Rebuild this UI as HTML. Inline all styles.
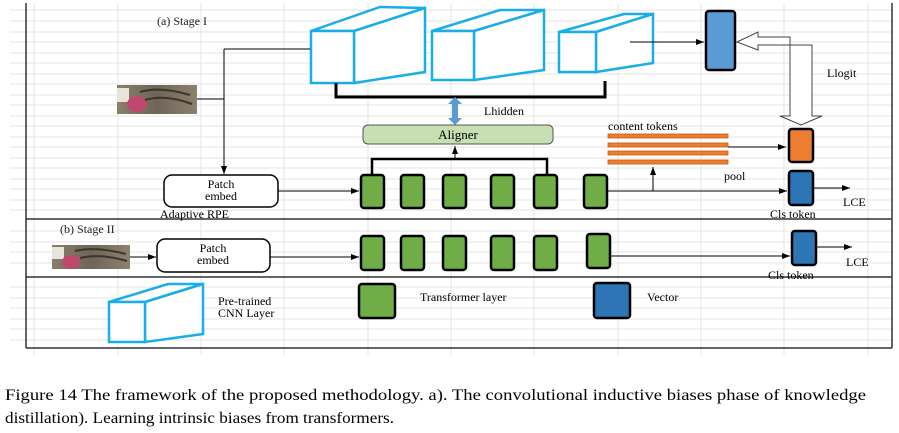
<!DOCTYPE html>
<html><head><meta charset="utf-8"><style>
html,body{margin:0;padding:0;background:#fff;}
svg{display:block;font-family:"Liberation Serif",serif;}
</style></head><body>
<svg width="899" height="433" viewBox="0 0 899 433" xmlns="http://www.w3.org/2000/svg">
<defs>
<marker id="ah" markerWidth="8" markerHeight="6" refX="8" refY="3" orient="auto" markerUnits="userSpaceOnUse"><path d="M0,0 L8,3 L0,6 Z" fill="#000"/></marker>
<linearGradient id="cat" x1="0" x2="1"><stop offset="0" stop-color="#8a7f6c"/><stop offset="0.5" stop-color="#6e6558"/><stop offset="1" stop-color="#8d8270"/></linearGradient>
</defs>
<!-- grid -->
<g stroke="#e4e4e4" stroke-width="1">
<line x1="10" y1="10" x2="893" y2="10"/><line x1="10" y1="21" x2="893" y2="21"/><line x1="10" y1="32" x2="893" y2="32"/><line x1="10" y1="42" x2="893" y2="42"/><line x1="10" y1="53" x2="893" y2="53"/><line x1="10" y1="63" x2="893" y2="63"/><line x1="10" y1="74" x2="893" y2="74"/><line x1="10" y1="84" x2="893" y2="84"/><line x1="10" y1="95" x2="893" y2="95"/><line x1="10" y1="105" x2="893" y2="105"/><line x1="10" y1="116" x2="893" y2="116"/><line x1="10" y1="126" x2="893" y2="126"/><line x1="10" y1="137" x2="893" y2="137"/><line x1="10" y1="147" x2="893" y2="147"/><line x1="10" y1="158" x2="893" y2="158"/><line x1="10" y1="168" x2="893" y2="168"/><line x1="10" y1="179" x2="893" y2="179"/><line x1="10" y1="189" x2="893" y2="189"/><line x1="10" y1="200" x2="893" y2="200"/><line x1="10" y1="210" x2="893" y2="210"/><line x1="10" y1="231" x2="893" y2="231"/><line x1="10" y1="242" x2="893" y2="242"/><line x1="10" y1="252" x2="893" y2="252"/><line x1="10" y1="263" x2="893" y2="263"/><line x1="10" y1="287" x2="893" y2="287"/><line x1="10" y1="298" x2="893" y2="298"/><line x1="10" y1="308" x2="893" y2="308"/><line x1="10" y1="319" x2="893" y2="319"/><line x1="10" y1="329" x2="893" y2="329"/><line x1="10" y1="340" x2="893" y2="340"/>
<line x1="34" y1="3" x2="34" y2="355"/><line x1="118" y1="3" x2="118" y2="355"/><line x1="201" y1="3" x2="201" y2="355"/><line x1="284" y1="3" x2="284" y2="355"/><line x1="368" y1="3" x2="368" y2="355"/><line x1="451" y1="3" x2="451" y2="355"/><line x1="534" y1="3" x2="534" y2="355"/><line x1="618" y1="3" x2="618" y2="355"/><line x1="701" y1="3" x2="701" y2="355"/><line x1="784" y1="3" x2="784" y2="355"/><line x1="868" y1="3" x2="868" y2="355"/>
</g>
<!-- frame -->
<g stroke="#333" stroke-width="1.5" fill="none">
<line x1="26" y1="3" x2="26" y2="348"/><line x1="892" y1="3" x2="892" y2="348"/>
<line x1="26" y1="219" x2="892" y2="219"/><line x1="26" y1="277" x2="892" y2="277"/><line x1="26" y1="348" x2="892" y2="348"/>
</g>
<g font-size="12" fill="#222">
<text x="157" y="25">(a) Stage I</text>
<text x="60" y="233">(b) Stage II</text>
</g>
<!-- cubes -->
<g stroke="#19aee8" stroke-width="2.5" fill="#fff" stroke-linejoin="miter">
<path d="M311,31 L380,7 L425,8 L354,31 Z"/><path d="M354,31 L425,8 L425,72 L354,83 Z"/><rect x="311" y="31" width="43" height="52"/>
<path d="M432,31 L500,10 L544,10 L474,31 Z"/><path d="M474,31 L544,10 L544,70 L474,80 Z"/><rect x="432" y="31" width="42" height="49"/>
<path d="M559,32 L624,14 L653,14 L596,32 Z"/><path d="M596,32 L653,14 L653,63 L596,72 Z"/><rect x="559" y="32" width="37" height="40"/>
<path d="M109,302 L168,284 L203,284 L145,302 Z"/><path d="M145,302 L203,284 L203,334 L145,342 Z"/><rect x="109" y="302" width="36" height="40"/>
</g>
<!-- bracket under cubes -->
<path d="M336,83 V97 H605 V81" stroke="#000" stroke-width="3" fill="none"/>
<!-- Lhidden double arrow -->
<path d="M455,97 L462,104 L458,104 L458,118 L462,118 L455,125 L448,118 L452,118 L452,104 L448,104 Z" fill="#5b9bd5"/>
<text x="484" y="115" font-size="12">Lhidden</text>
<!-- Aligner -->
<rect x="363" y="125" width="190" height="19" rx="5" fill="#c6e0b4" stroke="#555" stroke-width="1"/>
<text x="458" y="139" font-size="13" text-anchor="middle">Aligner</text>
<line x1="455" y1="159" x2="455" y2="146" stroke="#000" stroke-width="1" marker-end="url(#ah)"/>
<path d="M372,174 V159 H547 V174" stroke="#000" stroke-width="2.5" fill="none"/>
<!-- green stage I -->
<g fill="#70ad47" stroke="#000" stroke-width="2.5">
<rect x="361" y="175" width="23" height="33" rx="3"/><rect x="401" y="175" width="23" height="33" rx="3"/><rect x="443" y="175" width="23" height="33" rx="3"/><rect x="491" y="175" width="23" height="33" rx="3"/><rect x="534" y="175" width="23" height="33" rx="3"/><rect x="584" y="175" width="23" height="33" rx="3"/>
<rect x="361" y="236" width="23" height="34" rx="3"/><rect x="401" y="236" width="23" height="34" rx="3"/><rect x="443" y="236" width="23" height="34" rx="3"/><rect x="491" y="236" width="23" height="34" rx="3"/><rect x="534" y="236" width="23" height="34" rx="3"/><rect x="587" y="234" width="23" height="34" rx="3"/>
<rect x="359" y="284" width="36" height="34" rx="3"/>
</g>
<!-- vectors -->
<g stroke="#000" stroke-width="2.5">
<rect x="706" y="11" width="29" height="59" rx="3" fill="#5b9bd5"/>
<rect x="789" y="129" width="24" height="33" rx="3" fill="#ed7d31"/>
<rect x="789" y="171" width="24" height="34" rx="3" fill="#2e75b6"/>
<rect x="792" y="231" width="24" height="34" rx="3" fill="#2e75b6"/>
<rect x="594" y="283" width="36" height="35" rx="3" fill="#2e75b6"/>
</g>
<!-- content tokens -->
<g fill="#ed7d31" stroke="#c55a11" stroke-width="0.8">
<rect x="608" y="134" width="120" height="4"/><rect x="608" y="143" width="120" height="4"/><rect x="608" y="151" width="120" height="4"/><rect x="608" y="160" width="120" height="4"/>
</g>
<text x="608" y="130" font-size="12">content tokens</text>
<text x="724" y="180" font-size="12">pool</text>
<!-- hollow arrow -->
<path d="M737,42 L758,32 L758,37 L790,37 L790,116 L780,116 L801,125 L822,116 L812,116 L812,45 L758,45 L758,50 Z" fill="#fff" stroke="#444" stroke-width="1"/>
<text x="827" y="77" font-size="12">Llogit</text>
<!-- connectors -->
<g stroke="#000" stroke-width="1" fill="none">
<line x1="630" y1="42" x2="704" y2="42" marker-end="url(#ah)"/>
<line x1="310" y1="49" x2="224" y2="49"/>
<line x1="197" y1="99" x2="224" y2="99"/>
<line x1="224" y1="49" x2="224" y2="174" marker-end="url(#ah)"/>
<line x1="278" y1="191" x2="359" y2="191" marker-end="url(#ah)"/>
<line x1="728" y1="147" x2="786" y2="147" marker-end="url(#ah)"/>
<line x1="608" y1="191" x2="787" y2="191" marker-end="url(#ah)"/>
<line x1="653" y1="191" x2="653" y2="167" marker-end="url(#ah)"/>
<line x1="813" y1="188" x2="850" y2="188" marker-end="url(#ah)"/>
<line x1="130" y1="257" x2="156" y2="257" marker-end="url(#ah)"/>
<line x1="270" y1="257" x2="359" y2="257" marker-end="url(#ah)"/>
<line x1="610" y1="256" x2="790" y2="256" marker-end="url(#ah)"/>
<line x1="816" y1="247" x2="852" y2="247" marker-end="url(#ah)"/>
</g>
<!-- patch embed boxes -->
<rect x="164" y="175" width="114" height="32" rx="8" fill="#fff" stroke="#000" stroke-width="1.5"/>
<text x="221" y="188" font-size="12" text-anchor="middle">Patch</text><text x="221" y="200" font-size="12" text-anchor="middle">embed</text>
<rect x="157" y="239" width="113" height="33" rx="8" fill="#fff" stroke="#000" stroke-width="1.5"/>
<text x="213" y="252" font-size="12" text-anchor="middle">Patch</text><text x="213" y="264" font-size="12" text-anchor="middle">embed</text>
<g font-size="12">
<text x="160" y="218">Adaptive RPE</text>
<text x="770" y="218">Cls token</text>
<text x="843" y="206">LCE</text>
<text x="768" y="279">Cls token</text>
<text x="846" y="266">LCE</text>
<text x="218" y="305">Pre-trained</text><text x="218" y="317">CNN Layer</text>
<text x="420" y="301">Transformer layer</text>
<text x="647" y="301">Vector</text>
</g>
<!-- cat images -->
<g>
<rect x="117" y="85" width="80" height="29" fill="url(#cat)"/>
<rect x="117" y="88" width="12" height="14" fill="#e8e4dc"/>
<ellipse cx="137" cy="104" rx="10" ry="8" fill="#c0486e"/>
<path d="M140,92 Q160,86 190,95 M145,100 Q165,94 192,104" stroke="#3c352c" stroke-width="2" fill="none"/>
<rect x="52" y="245" width="78" height="24" fill="url(#cat)"/>
<rect x="52" y="247" width="12" height="12" fill="#e8e4dc"/>
<ellipse cx="71" cy="262" rx="9" ry="7" fill="#c0486e"/>
<path d="M75,251 Q95,246 126,254 M80,258 Q100,253 127,261" stroke="#3c352c" stroke-width="2" fill="none"/>
</g>
<!-- caption -->
<g font-size="16" fill="#000">
<text x="5" y="400" textLength="861" lengthAdjust="spacingAndGlyphs">Figure 14 The framework of the proposed methodology. a). The convolutional inductive biases phase of knowledge</text>
<text x="5" y="423" textLength="389" lengthAdjust="spacingAndGlyphs">distillation). Learning intrinsic biases from transformers.</text>
</g>
</svg>
</body></html>
